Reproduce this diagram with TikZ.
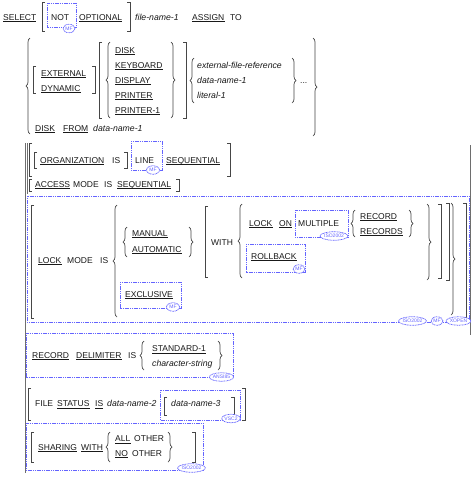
\documentclass[tikz,border=0pt]{standalone}
\usepackage{fontspec}
\setmainfont{Liberation Sans}
\usetikzlibrary{shapes.geometric,decorations.pathreplacing}
\definecolor{txt}{RGB}{25,25,25}
\definecolor{brk}{RGB}{70,70,70}
\definecolor{dbl}{RGB}{100,100,255}
\definecolor{gline}{RGB}{110,110,110}
\newcommand\kwfont{\fontsize{8.5}{10}\selectfont}
\newcommand\itfont{\fontsize{8.7}{10}\selectfont\itshape}
\newcommand\tagfont{\fontsize{5}{6}\selectfont}
\tikzset{
 kw/.style={anchor=base west, inner sep=0pt, font=\kwfont, text=txt},
 itx/.style={kw, font=\itfont},
 ul/.style={draw=txt, line width=0.55pt},
 brk/.style={draw=brk, line width=0.7pt},
 brc/.style={draw=brk, line width=0.7pt, decorate},
 dbox/.style={draw=dbl, line width=0.8pt, dash pattern=on 1.2pt off 0.6pt},
 tag/.style={ellipse, draw=dbl, fill=white, line width=0.7pt, dash pattern=on 1pt off 0.6pt, inner sep=0pt, minimum height=8.5pt, font=\tagfont, text=dbl},
 gl/.style={draw=gline, line width=1pt},
}
\newcommand\KW[4]{\node[kw] (#1) at (#2,#3) {#4}; \draw[ul] ([yshift=-1.6pt]#1.base west) -- ([yshift=-1.6pt]#1.base east);}
\newcommand\WD[4]{\node[kw] (#1) at (#2,#3) {#4};}
\newcommand\IT[4]{\node[itx] (#1) at (#2,#3) {#4};}
\newcommand\LB[3]{\draw[brk] (#1+3,#2) -- (#1,#2) -- (#1,#3) -- (#1+3,#3);}
\newcommand\RB[3]{\draw[brk] (#1-3,#2) -- (#1,#2) -- (#1,#3) -- (#1-3,#3);}
\newcommand\LBR[3]{\draw[brc,decoration={brace,amplitude=4pt}] (#1+4,#3) -- (#1+4,#2);}
\newcommand\RBR[3]{\draw[brc,decoration={brace,amplitude=4pt}] (#1,#2) -- (#1,#3);}
\newcommand\TAG[5]{\node[tag, minimum width=#4pt] (#1) at (#2,#3) {#5};}
\begin{document}
\begin{tikzpicture}[x=1pt,y=-1pt]
\useasboundingbox (0,0) rectangle (474,477);
\fill[white] (0,0) rectangle (474,477);
% row 1
\KW{select}{3}{20}{SELECT}
\LB{42}{2}{31}
\draw[dbox] (47,3) rectangle (76,27);
\WD{not}{51}{20}{NOT}
\TAG{tmf1}{69}{28.5}{12}{MF}
\KW{optional}{79}{20}{OPTIONAL}
\RB{130}{2}{31}
\IT{fn1}{135}{20}{file-name-1}
\KW{assign}{192}{20}{ASSIGN}
\WD{to}{230}{20}{TO}
% row 2
\LBR{26}{38}{134}
\LB{33}{66}{93}
\KW{external}{41}{76}{EXTERNAL}
\KW{dynamic}{41}{91}{DYNAMIC}
\RB{95}{66}{93}
\LB{99}{42}{118}
\LBR{106}{42}{118}
\KW{disk}{115}{53}{DISK}
\KW{keyboard}{115}{68}{KEYBOARD}
\KW{display}{115}{83}{DISPLAY}
\KW{printer}{115}{98}{PRINTER}
\KW{printera}{115}{113}{PRINTER-1}
\RBR{171}{42}{118}
\RB{186}{42}{118}
\LBR{190}{58}{103}
\IT{efr}{197}{68}{external-file-reference}
\IT{dn1}{197}{83}{data-name-1}
\IT{lit1}{197}{98}{literal-1}
\RBR{292}{58}{103}
\WD{dots}{300}{83}{...}
\RBR{313}{38}{136}
\KW{disk2}{35}{131}{DISK}
\KW{from}{63}{131}{FROM}
\IT{dn1b}{93}{131}{data-name-1}
% side rules
\draw[gl] (25,143) -- (25,473);
\draw[gl] (27.5,143) -- (27.5,194);
\draw[gl] (470,145) -- (470,335);
% organization
\LB{29}{143}{176}
\LB{34}{152}{168}
\KW{org}{40}{163}{ORGANIZATION}
\WD{is1}{112}{163}{IS}
\RB{127}{152}{168}
\draw[dbox] (131,141) rectangle (162,170);
\WD{line}{135}{163}{LINE}
\TAG{tmf2}{153}{170}{13}{MF}
\KW{seq1}{166}{163}{SEQUENTIAL}
\RB{230}{143}{176}
% access
\LB{29}{179}{191}
\KW{access}{35}{187}{ACCESS}
\WD{mode1}{73}{187}{MODE}
\WD{is2}{104}{187}{IS}
\KW{seq2}{117}{187}{SEQUENTIAL}
\RB{179}{179}{191}
% lock mode
\draw[dbox] (27,196) rectangle (469,322);
\LB{31}{205}{318}
\KW{lock}{38}{263}{LOCK}
\WD{mode2}{67}{263}{MODE}
\WD{is3}{100}{263}{IS}
\LBR{113}{205}{317}
\LBR{123}{227}{257}
\KW{manual}{132}{236}{MANUAL}
\KW{automatic}{132}{252}{AUTOMATIC}
\RBR{189}{227}{257}
\LB{205}{206}{277}
\WD{with1}{211}{245}{WITH}
\LBR{238}{204}{278}
\KW{lock2}{249}{226}{LOCK}
\KW{on}{279}{226}{ON}
\draw[dbox] (295,210) rectangle (348,237);
\WD{multiple}{298}{226}{MULTIPLE}
\TAG{tiso1}{334}{236}{24}{ISO2002}
\LBR{351}{210}{237}
\KW{record}{360}{219}{RECORD}
\KW{records}{360}{234}{RECORDS}
\RBR{409}{210}{237}
\draw[dbox] (246,244) rectangle (305,272);
\KW{rollback}{251}{259}{ROLLBACK}
\TAG{tmf3}{299}{269}{12}{MF}
\RBR{427}{204}{280}
\RB{441}{204}{278}
\RB{449}{203}{280}
\RBR{451}{203}{315}
\RB{466}{203}{317}
\draw[dbox] (120,282) rectangle (181,308);
\KW{exclusive}{125}{297}{EXCLUSIVE}
\TAG{tmf4}{173}{307}{13}{MF}
\TAG{tiso2}{412.5}{321}{25}{ISO2002}
\TAG{tmf5}{437}{321}{12}{MF}
\TAG{txo}{458.5}{321}{23}{XOPEN}
% record delimiter
\draw[dbox] (26,333) rectangle (233,377);
\KW{record2}{32}{358}{RECORD}
\KW{delim}{76}{358}{DELIMITER}
\WD{is4}{128}{358}{IS}
\LBR{140}{341}{370}
\KW{std}{152}{351.5}{STANDARD-1}
\IT{chs}{152}{366}{character-string}
\RBR{218}{341}{370}
\TAG{tansi}{221.5}{377}{23}{ANSI85}
% file status
\LB{28}{388}{420}
\WD{file}{35}{406.5}{FILE}
\KW{status}{57}{406.5}{STATUS}
\KW{is5}{95}{406.5}{IS}
\IT{dn2}{107}{406.5}{data-name-2}
\draw[dbox] (160,390) rectangle (240,420);
\LB{164}{397}{415}
\IT{dn3}{171}{406.5}{data-name-3}
\RB{234}{397}{415}
\TAG{tvsc}{231}{418.5}{18}{VSC2}
\RB{245}{388}{420}
% sharing
\draw[dbox] (26,423) rectangle (203,470);
\LB{31}{432}{462}
\KW{sharing}{38}{450}{SHARING}
\KW{with2}{81}{450}{WITH}
\LBR{106}{432}{462}
\KW{all}{115}{441.5}{ALL}
\WD{other1}{134}{441.5}{OTHER}
\KW{no}{115}{456}{NO}
\WD{other2}{132}{456}{OTHER}
\RBR{168}{432}{462}
\RB{195}{432}{462}
\TAG{tiso3}{191.5}{468}{23}{ISO2002}
\end{tikzpicture}
\end{document}
